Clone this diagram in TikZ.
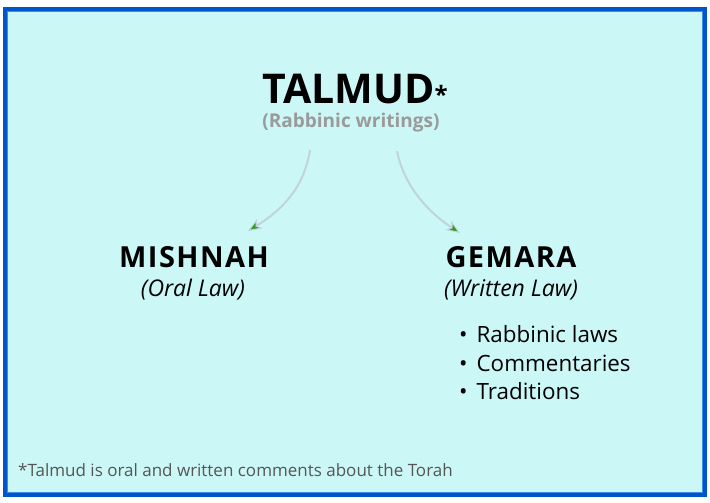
\documentclass[tikz,border=0pt]{standalone}
\usepackage{fontspec}
\setmainfont{Open Sans}
\newfontfamily\spaced[LetterSpace=5]{Open Sans}
\usetikzlibrary{arrows.meta}
\definecolor{bgc}{HTML}{CBF8F7}
\definecolor{bordc}{HTML}{0055CC}
\definecolor{bordin}{HTML}{3D8FE6}
\definecolor{arrc}{HTML}{C3D2DE}
\definecolor{tipc}{HTML}{2E9E1E}
\definecolor{subc}{HTML}{9A9A9A}
\definecolor{footc}{HTML}{555555}
\tikzset{
  title/.style={font=\fontsize{41}{41}\selectfont\bfseries, inner sep=0pt, anchor=base west},
  sub/.style={font=\fontsize{19}{19}\selectfont\bfseries, text=subc, inner sep=0pt, anchor=base},
  head/.style={font=\fontsize{29}{29}\selectfont\bfseries\spaced, inner sep=0pt, anchor=base},
  paren/.style={font=\fontsize{23}{23}\selectfont\itshape, inner sep=0pt, anchor=base},
  item/.style={font=\fontsize{22.4}{22.4}\selectfont, inner sep=0pt, anchor=base west},
  foot/.style={font=\fontsize{17}{17}\selectfont, text=footc, inner sep=0pt, anchor=base west},
  conn/.style={draw=arrc, line width=2pt, -{Stealth[length=14pt,width=11pt,inset=4pt,fill=tipc,color=arrc,line width=1pt]}}
}
\begin{document}
\begin{tikzpicture}[x=1pt,y=-1pt]
\useasboundingbox (0,0) rectangle (710,503);
\fill[bgc] (5,9) rectangle (705,495);
\draw[bordc, line width=4pt] (5,9) rectangle (705,495);
\draw[bordin, line width=1pt] (7.5,11.5) rectangle (702.5,492.5);
\node[title] (talmud) at (262,103) {TALMUD{\fontsize{24}{24}\selectfont*}};
\node[sub] (rabb) at (351,128) {(Rabbinic writings)};
\node[head] (mishnah) at (194,267) {MISHNAH};
\node[paren] (oral) at (193,296) {(Oral Law)};
\node[head] (gemara) at (511,267) {GEMARA};
\node[paren] (written) at (511,296) {(Written Law)};
\node[item] (i1) at (459,342) {\textbullet\hspace{9pt}Rabbinic laws};
\node[item] (i2) at (459,371) {\textbullet\hspace{9pt}Commentaries};
\node[item] (i3) at (459,399) {\textbullet\hspace{9pt}Traditions};
\node[foot] (fn) at (18,476) {*Talmud is oral and written comments about the Torah};
\coordinate (ls) at (310,150);
\coordinate (le) at (248,231);
\coordinate (rs) at (397,151);
\coordinate (re) at (460,233);
\draw[conn] (ls) .. controls (304,188) and (282,210) .. (le);
\draw[conn] (rs) .. controls (404,186) and (428,212) .. (re);
\end{tikzpicture}
\end{document}
